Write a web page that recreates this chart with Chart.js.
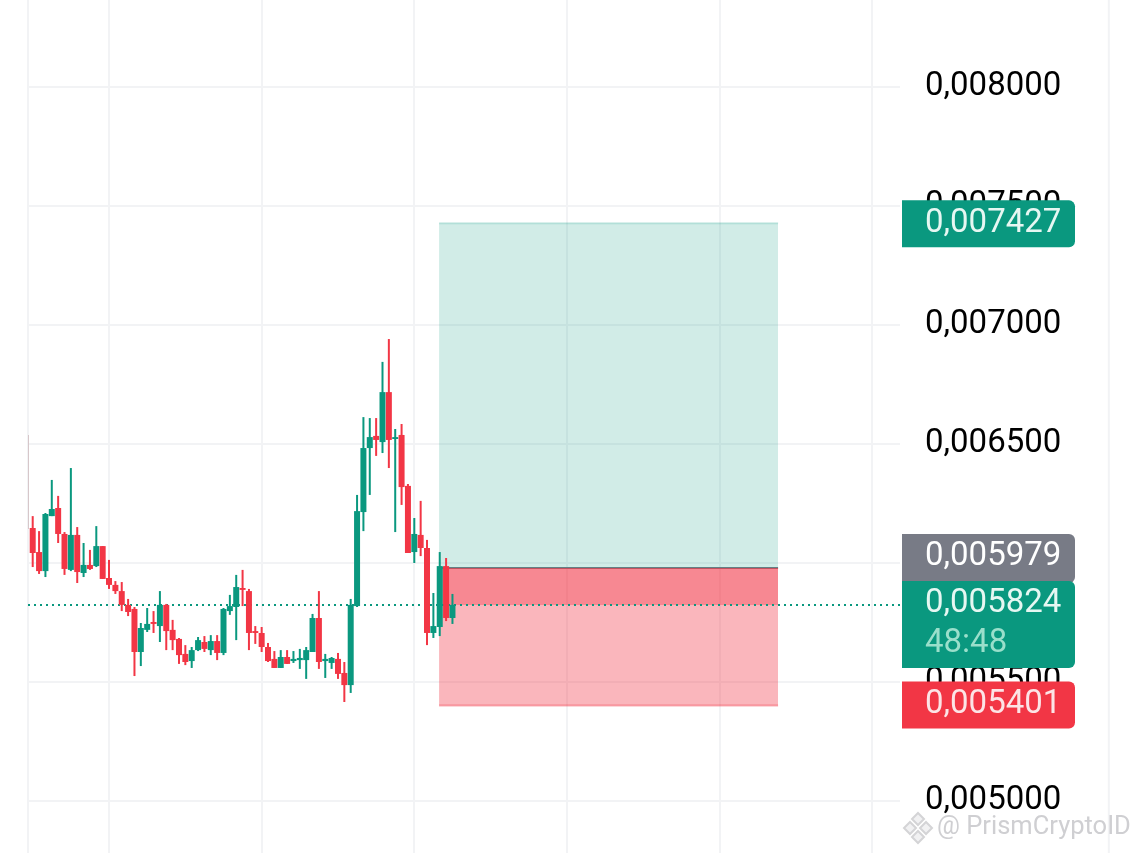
<!DOCTYPE html>
<html lang="en">
<head>
    <meta charset="UTF-8">
    <title>Position chart</title>
    <script src="https://cdn.jsdelivr.net/npm/chart.js"></script>
</head>
<style>
    html, body{
        margin: 0;
        padding: 0;
        background: #fff;
    }
    #chart{
        display: block;
    }
</style>
<body>
<canvas id="chart" width="1137" height="853"></canvas>
<script>
    // first entry is the candle cut off by the left edge of the pane
    const candleIndex = [-1.1,0,1,2,3,4,5,6,7,8,9,10,11,12,13,14,15,16,17,18,19,20,21,22,23,24,25,26,27,28,29,30,31,32,33,34,35,36,37,38,39,40,41,42,43,44,45,46,47,48,49,50,51,52,53,54,55,56,57,58,59,60,61,62,63,64,65,66];
    const opens = [.006538,.006147,.006046,.005966,.006197,.006231,.006122,.005971,.006118,.005958,.005992,.005987,.006071,.005937,.005908,.005882,.005824,.005807,.005626,.005719,.005752,.005735,.005824,.005719,.005681,.005618,.005588,.005634,.005668,.005634,.005672,.005622,.005798,.005815,.005895,.005882,.005714,.005706,.005647,.005597,.005559,.005605,.005588,.005592,.005592,.005626,.005769,.005588,.005580,.005597,.005538,.005487,.005819,.006214,.006483,.006534,.006508,.006718,.006521,.006538,.006324,.006046,.006118,.006063,.005706,.005731,.005987,.005769];
    const closes = [.006143,.006042,.005966,.006206,.006227,.006122,.005975,.006118,.005962,.005992,.005975,.006071,.005933,.005908,.005882,.005824,.005794,.005626,.005727,.005744,.005744,.005824,.005714,.005676,.005613,.005584,.005634,.005676,.005639,.005672,.005622,.005807,.005819,.005899,.005887,.005706,.005706,.005647,.005588,.005559,.005605,.005576,.005597,.005601,.005634,.005769,.005584,.005597,.005601,.005534,.005487,.005824,.006218,.006483,.006529,.006517,.006718,.006517,.006529,.006319,.006042,.006122,.006063,.005706,.005735,.005987,.005769,.005824];
    const highs = [.006538,.006197,.006134,.006210,.006349,.006282,.006130,.006399,.006151,.006084,.006055,.006155,.006071,.006013,.005924,.005920,.005849,.005815,.005748,.005811,.005798,.005882,.005828,.005761,.005685,.005655,.005647,.005689,.005693,.005697,.005697,.005811,.005866,.005950,.005971,.005891,.005735,.005731,.005664,.005630,.005634,.005634,.005630,.005639,.005647,.005786,.005882,.005618,.005605,.005622,.005584,.005849,.006286,.006613,.006609,.006609,.006845,.006941,.006563,.006584,.006332,.006189,.006261,.006097,.005874,.006046,.006021,.005870];
    const lows = [.006143,.005983,.005954,.005941,.006197,.006084,.005950,.005966,.005916,.005941,.005971,.005983,.005933,.005891,.005870,.005798,.005777,.005525,.005567,.005710,.005706,.005668,.005634,.005634,.005576,.005571,.005559,.005630,.005626,.005613,.005592,.005613,.005782,.005676,.005819,.005634,.005660,.005626,.005584,.005559,.005559,.005576,.005580,.005555,.005513,.005626,.005555,.005517,.005555,.005513,.005416,.005454,.005815,.006134,.006286,.006450,.006462,.006399,.006130,.006244,.006042,.006000,.006029,.005655,.005685,.005693,.005756,.005744];

    const takeProfit = 0.007427;
    const entryPrice = 0.005979;
    const lastPrice = 0.005824;
    const stopLoss = 0.005401;
    const countdown = "48:48";
    const positionSpan = [63.9, 117.2];
    const watermark = "@ PrismCryptoID";

    const priceTicks = [0.005, 0.0055, 0.006, 0.0065, 0.007, 0.0075, 0.008];
    const gridSlots = [12, 36, 60, 84, 108, 132];
    const paneEdges = [-0.74, 169.2];

    const xMin = -0.74, xMax = 136.37;
    const yMin = 0.00478151, yMax = 0.00836555;

    const GREEN = "#0A987F";
    const RED = "#F23645";
    const GRAY = "#787B86";
    const GRID = "#F2F3F5";
    const FONT = "33px Roboto";

    // the cut off candle only shows as a faded sliver
    const candleColors = opens.map((o, i) => i === 0 ? "#CDB4B8" : (closes[i] >= o ? GREEN : RED));

    function fmt(v){
        return v.toFixed(6).replace(".", ",");
    }

    function level(v){
        return positionSpan.map(x => ({x: x, y: v}));
    }

    function badge(ctx, top, bottom, color){
        ctx.fillStyle = color;
        ctx.beginPath();
        ctx.roundRect(902, top, 173, bottom - top, [0, 6, 6, 0]);
        ctx.fill();
    }

    function label(ctx, text, y, color){
        ctx.fillStyle = color;
        ctx.font = FONT;
        ctx.textAlign = "left";
        ctx.textBaseline = "middle";
        ctx.fillText(text, 925, y);
    }

    // pane borders sit outside the gridded part of the scale
    const paneEdgePlugin = {
        id: "paneEdges",
        beforeDatasetsDraw(chart){
            const ctx = chart.ctx;
            ctx.save();
            ctx.strokeStyle = GRID;
            ctx.lineWidth = 2;
            paneEdges.forEach(v => {
                const x = chart.scales.x.getPixelForValue(v);
                ctx.beginPath();
                ctx.moveTo(x, 0);
                ctx.lineTo(x, 853);
                ctx.stroke();
            });
            ctx.restore();
        }
    };

    const sideLabelPlugin = {
        id: "sideLabels",
        afterDatasetsDraw(chart){
            const ctx = chart.ctx;
            const y = chart.scales.y;
            ctx.save();
            priceTicks.forEach(t => label(ctx, fmt(t), y.getPixelForValue(t), "#000000"));

            const tp = y.getPixelForValue(takeProfit);
            badge(ctx, tp - 23, tp + 24, GREEN);
            label(ctx, fmt(takeProfit), tp, "#E6F7F2");

            const en = y.getPixelForValue(entryPrice);
            badge(ctx, en - 34, en + 15, GRAY);
            label(ctx, fmt(entryPrice), en - 11, "#FFFFFF");

            const lp = y.getPixelForValue(lastPrice);
            badge(ctx, lp - 24, lp + 63, GREEN);
            label(ctx, fmt(lastPrice), lp - 1, "#E6F7F2");
            label(ctx, countdown, lp + 39, "#9ADFCB");

            const sl = y.getPixelForValue(stopLoss);
            badge(ctx, sl - 24, sl + 23, RED);
            label(ctx, fmt(stopLoss), sl - 1, "#FCE4E6");

            // watermark
            ctx.strokeStyle = "#D4D4D6";
            ctx.fillStyle = "#F1F1F2";
            ctx.lineWidth = 2;
            [[918, 819], [910, 828], [926, 828], [918, 837]].forEach(p => {
                ctx.beginPath();
                ctx.moveTo(p[0], p[1] - 6);
                ctx.lineTo(p[0] + 6, p[1]);
                ctx.lineTo(p[0], p[1] + 6);
                ctx.lineTo(p[0] - 6, p[1]);
                ctx.closePath();
                ctx.fill();
                ctx.stroke();
            });
            ctx.font = "25.5px Roboto";
            ctx.textAlign = "left";
            ctx.textBaseline = "middle";
            ctx.fillStyle = "#CFCFD2";
            ctx.fillText(watermark, 937, 828);
            ctx.restore();
        }
    };

    const lineBase = {type: "line", pointRadius: 0, tension: 0};

    const chart = new Chart(document.getElementById("chart"), {
        type: "bar",
        data: {
            datasets: [
                {...lineBase, label: "Entry", order: 6, data: level(entryPrice), borderColor: GRAY, borderWidth: 2, fill: false},
                {...lineBase, label: "Take profit", order: 5, data: level(takeProfit), borderColor: "rgba(8,153,129,0.2)", borderWidth: 2,
                    fill: {target: 0}, backgroundColor: "rgba(8,153,129,0.19)"},
                {...lineBase, label: "Stop loss", order: 5, data: level(stopLoss), borderColor: "rgba(242,54,69,0.4)", borderWidth: 2,
                    fill: {target: 0}, backgroundColor: "rgba(242,54,69,0.36)"},
                {...lineBase, label: "Open loss", order: 4, data: level(lastPrice), borderColor: "rgba(0,0,0,0)", borderWidth: 0,
                    fill: {target: 0}, backgroundColor: "rgba(242,54,69,0.36)"},
                {...lineBase, label: "Last price", order: 3, data: [{x: xMin, y: lastPrice}, {x: xMax, y: lastPrice}],
                    borderColor: GREEN, borderWidth: 2, borderDash: [2, 4], fill: false},
                {
                    label: "Wicks", order: 2, grouped: false, barThickness: 2, inflateAmount: 0,
                    data: candleIndex.map((x, i) => ({x: x, y: [lows[i], highs[i]]})),
                    backgroundColor: candleColors
                },
                {
                    label: "Bodies", order: 1, grouped: false, barThickness: 6, inflateAmount: 0,
                    data: candleIndex.map((x, i) => ({x: x, y: [opens[i], closes[i]]})),
                    backgroundColor: candleColors
                }
            ]
        },
        options: {
            responsive: false,
            animation: false,
            devicePixelRatio: 1,
            layout: {padding: {left: 28, right: 237, top: 0, bottom: 0}},
            plugins: {legend: {display: false}, tooltip: {enabled: false}},
            scales: {
                x: {
                    type: "linear",
                    min: xMin,
                    max: xMax,
                    offset: false,
                    afterBuildTicks: scale => { scale.ticks = gridSlots.map(v => ({value: v})); },
                    grid: {color: GRID, lineWidth: 2, drawTicks: false, offset: false},
                    border: {display: false},
                    ticks: {display: false}
                },
                y: {
                    type: "linear",
                    position: "right",
                    min: yMin,
                    max: yMax,
                    afterBuildTicks: scale => { scale.ticks = priceTicks.map(v => ({value: v})); },
                    grid: {color: GRID, lineWidth: 2, drawTicks: false},
                    border: {display: false},
                    ticks: {display: false}
                }
            }
        },
        plugins: [paneEdgePlugin, sideLabelPlugin]
    });
</script>
</body>
</html>
